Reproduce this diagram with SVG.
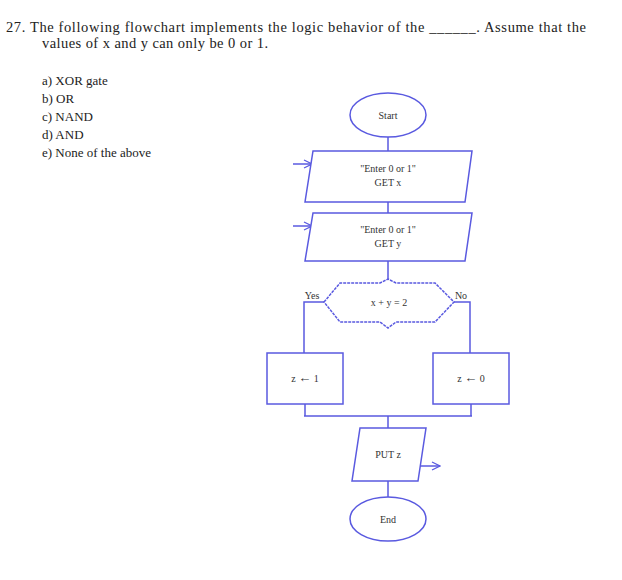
<svg xmlns="http://www.w3.org/2000/svg" width="622" height="580" viewBox="0 0 622 580">
<defs>
<marker id="ah" markerWidth="10" markerHeight="10" refX="9" refY="5" orient="auto" markerUnits="userSpaceOnUse"><path d="M1,1 L9,5 L1,9" fill="none" stroke="#5a5ae0" stroke-width="1.3"/></marker>
<style>
.t{font-family:"Liberation Serif",serif;font-size:13px;fill:#222}
.h{font-family:"Liberation Serif",serif;font-size:14.5px;fill:#222}
.n{font-family:"Liberation Serif",serif;font-size:10px;fill:#333;text-anchor:middle}
.s{fill:#fff;stroke:#5a5ae0;stroke-width:1.5}
.c{fill:none;stroke:#5a5ae0;stroke-width:1.5}
</style>
</defs>
<rect width="622" height="580" fill="#fff"/>
<text class="h" x="6" y="32" textLength="580" lengthAdjust="spacing">27.  The following flowchart implements the logic behavior of the ______. Assume that the</text>
<text class="h" x="42" y="48" textLength="226" lengthAdjust="spacing">values of x and y can only be 0 or 1.</text>
<text class="t" x="42" y="85">a)  XOR gate</text>
<text class="t" x="42" y="103">b)  OR</text>
<text class="t" x="42" y="121">c)  NAND</text>
<text class="t" x="42" y="139">d)  AND</text>
<text class="t" x="42" y="157">e)  None of the above</text>
<g id="connectors">
<path class="c" d="M388,137 V151 M388,202 V213 M388,261 V280 M324,302 H304 V353 M454,302 H470 V353 M305,404 V416 M471,404 V416 M304,416 H472 M388,416 V428 M388,481 V497"/>
<path class="c" d="M293,164 H312" marker-end="url(#ah)"/>
<path class="c" d="M293,226 H312" marker-end="url(#ah)"/>
<path class="c" d="M420,466 H440" marker-end="url(#ah)"/>
</g>
<g id="start"><ellipse class="s" cx="388" cy="115" rx="38" ry="22"/><text class="n" x="388" y="119">Start</text></g>
<g id="getx"><path class="s" d="M313,151 H472 L465,202 H305 Z"/><text class="n" x="388" y="172">"Enter 0 or 1"</text><text class="n" x="388" y="186">GET x</text></g>
<g id="gety"><path class="s" d="M313,213 H472 L465,261 H305 Z"/><text class="n" x="388" y="233">"Enter 0 or 1"</text><text class="n" x="388" y="247">GET y</text></g>
<g id="decision"><path class="s" stroke-dasharray="3,1" d="M324,302 L340,283 H380 L388,279 L396,283 H435 L454,302 L435,322 H396 L388,328 L380,322 H340 Z"/><text class="n" x="389" y="306">x + y = 2</text>
<text class="n" x="312" y="299" font-size="9">Yes</text><text class="n" x="461" y="299" font-size="9">No</text></g>
<g id="z1"><rect class="s" x="267" y="353" width="76" height="51"/><text class="n" x="305" y="382">z <tspan font-size="13">←</tspan> 1</text></g>
<g id="z0"><rect class="s" x="433" y="353" width="76" height="51"/><text class="n" x="471" y="382">z <tspan font-size="13">←</tspan> 0</text></g>
<g id="put"><path class="s" d="M360,428 H426 L418,481 H352 Z"/><text class="n" x="388" y="458">PUT z</text></g>
<g id="end"><ellipse class="s" cx="388" cy="519" rx="38" ry="22"/><text class="n" x="388" y="523">End</text></g>
</svg>
